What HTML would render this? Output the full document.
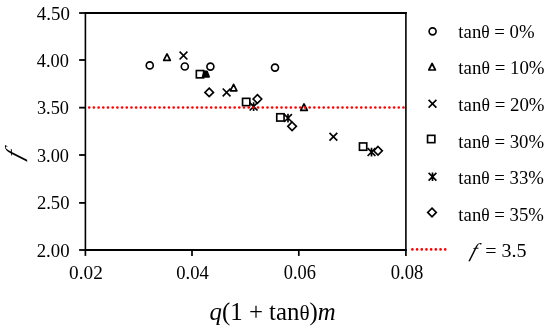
<!DOCTYPE html>
<html><head><meta charset="utf-8"><style>
html,body{margin:0;padding:0;background:#fff;overflow:hidden;}
svg{display:block;}
</style></head><body>
<svg width="550" height="332" viewBox="0 0 550 332">
<rect width="550" height="332" fill="#fff"/>
<g stroke="#000" fill="none">
<path d="M85.4,12.0V251.0" stroke-width="1.6"/>
<path d="M405.9,12.0V251.0" stroke-width="1.6"/>
<path d="M85.4,13.0H406.7" stroke-width="2.0"/>
<path d="M85.4,250.0H406.7" stroke-width="2.0"/>
<path d="M79.1,13.0H85.4" stroke-width="1.8"/>
<path d="M79.1,60.0H85.4" stroke-width="1.8"/>
<path d="M79.1,107.65H85.4" stroke-width="1.8"/>
<path d="M79.1,155.0H85.4" stroke-width="1.8"/>
<path d="M79.1,202.9H85.4" stroke-width="1.8"/>
<path d="M79.1,250.0H85.4" stroke-width="1.8"/>
<path d="M85.4,250.0V255.9" stroke-width="1.7"/>
<path d="M192.0,250.0V255.9" stroke-width="1.7"/>
<path d="M298.8,250.0V255.9" stroke-width="1.7"/>
<path d="M405.9,250.0V255.9" stroke-width="1.7"/>
</g>
<g stroke="#000" stroke-width="1.65" fill="none">
<circle cx="149.75" cy="65.4" r="3.5"/>
<circle cx="184.8" cy="66.5" r="3.5"/>
<circle cx="210.4" cy="66.6" r="3.5"/>
<circle cx="275.0" cy="67.6" r="3.5"/>
<polygon points="167.00,53.95 170.30,60.45 163.70,60.45" stroke-linejoin="round" stroke-width="1.7"/>
<polygon points="233.60,84.35 236.90,90.85 230.30,90.85" stroke-linejoin="round" stroke-width="1.7"/>
<polygon points="304.00,103.95 307.30,110.45 300.70,110.45" stroke-linejoin="round" stroke-width="1.7"/>
<path d="M179.60,51.70L187.40,59.50M187.40,51.70L179.60,59.50"/>
<path d="M222.70,88.50L230.50,96.30M230.50,88.50L222.70,96.30"/>
<path d="M329.50,132.80L337.30,140.60M337.30,132.80L329.50,140.60"/>
<rect x="196.35" y="70.55" width="7.30" height="7.30"/>
<rect x="242.55" y="98.35" width="7.30" height="7.30"/>
<rect x="276.75" y="113.75" width="7.30" height="7.30"/>
<rect x="359.45" y="142.95" width="7.30" height="7.30"/>
<path d="M249.70,102.70L257.50,110.50M257.50,102.70L249.70,110.50M253.60,102.30L253.60,110.90"/>
<path d="M284.10,114.20L291.90,122.00M291.90,114.20L284.10,122.00M288.00,113.80L288.00,122.40"/>
<path d="M367.60,148.20L375.40,156.00M375.40,148.20L367.60,156.00M371.50,147.80L371.50,156.40"/>
<polygon points="209.20,88.10 213.50,92.40 209.20,96.70 204.90,92.40"/>
<polygon points="257.40,94.70 261.70,99.00 257.40,103.30 253.10,99.00"/>
<polygon points="292.10,122.00 296.40,126.30 292.10,130.60 287.80,126.30"/>
<polygon points="378.00,146.50 382.30,150.80 378.00,155.10 373.70,150.80"/>
<polygon points="204.2,71.3 207.0,71.3 209.1,76.9 202.6,76.9" fill="#000" stroke-linejoin="round" stroke-width="1.7"/>
</g>
<path d="M89.25,107.5H405" stroke="#ff0000" stroke-width="2.7" stroke-linecap="round" stroke-dasharray="0 4.69" fill="none"/>
<g stroke="#000" stroke-width="1.65" fill="none">
<circle cx="432.6" cy="31.35" r="3.5"/>
<polygon points="432.10,63.50 435.40,70.00 428.80,70.00" stroke-linejoin="round" stroke-width="1.7"/>
<path d="M428.60,99.90L436.40,107.70M436.40,99.90L428.60,107.70"/>
<rect x="427.55" y="135.35" width="7.30" height="7.30"/>
<path d="M428.60,172.80L436.40,180.60M436.40,172.80L428.60,180.60M432.50,172.40L432.50,181.00"/>
<polygon points="432.00,208.15 436.30,212.45 432.00,216.75 427.70,212.45"/>
</g>
<path d="M412.4,249.4H446" stroke="#ff0000" stroke-width="2.7" stroke-linecap="round" stroke-dasharray="0 4.69" fill="none"/>
<text transform="matrix(0.9684 0 0 1.0189 36.86 19.75)" font-family="Liberation Serif, serif" font-size="19.5" fill="#000">4.50</text>
<text transform="matrix(0.9414 0 0 0.9962 36.86 66.55)" font-family="Liberation Serif, serif" font-size="19.5" fill="#000">4.00</text>
<text transform="matrix(0.9385 0 0 0.9962 36.96 113.95)" font-family="Liberation Serif, serif" font-size="19.5" fill="#000">3.50</text>
<text transform="matrix(0.9385 0 0 0.9962 36.96 161.55)" font-family="Liberation Serif, serif" font-size="19.5" fill="#000">3.00</text>
<text transform="matrix(0.9557 0 0 1.0038 36.88 209.45)" font-family="Liberation Serif, serif" font-size="19.5" fill="#000">2.50</text>
<text transform="matrix(0.9649 0 0 0.9887 36.68 257.15)" font-family="Liberation Serif, serif" font-size="19.5" fill="#000">2.00</text>
<text transform="matrix(0.9891 0 0 0.9811 69.06 279.25)" font-family="Liberation Serif, serif" font-size="19.5" fill="#000">0.02</text>
<text transform="matrix(0.9545 0 0 1.0189 176.28 279.35)" font-family="Liberation Serif, serif" font-size="19.5" fill="#000">0.04</text>
<text transform="matrix(0.9435 0 0 1.0340 283.79 279.44)" font-family="Liberation Serif, serif" font-size="19.5" fill="#000">0.06</text>
<text transform="matrix(0.9557 0 0 1.0340 390.68 279.44)" font-family="Liberation Serif, serif" font-size="19.5" fill="#000">0.08</text>
<text transform="matrix(0.9761 0 0 1.0000 458.36 37.75)" font-family="Liberation Serif, serif" font-size="19.2" fill="#000">tan<tspan font-size="18">θ</tspan> = 0%</text>
<text transform="matrix(0.9833 0 0 1.0000 458.35 74.42)" font-family="Liberation Serif, serif" font-size="19.2" fill="#000">tan<tspan font-size="18">θ</tspan> = 10%</text>
<text transform="matrix(0.9833 0 0 1.0000 458.35 111.09)" font-family="Liberation Serif, serif" font-size="19.2" fill="#000">tan<tspan font-size="18">θ</tspan> = 20%</text>
<text transform="matrix(0.9787 0 0 1.0000 458.36 147.76)" font-family="Liberation Serif, serif" font-size="19.2" fill="#000">tan<tspan font-size="18">θ</tspan> = 30%</text>
<text transform="matrix(0.9764 0 0 1.0000 458.36 184.43)" font-family="Liberation Serif, serif" font-size="19.2" fill="#000">tan<tspan font-size="18">θ</tspan> = 33%</text>
<text transform="matrix(0.9764 0 0 1.0000 458.36 221.10)" font-family="Liberation Serif, serif" font-size="19.2" fill="#000">tan<tspan font-size="18">θ</tspan> = 35%</text>
<text transform="matrix(1.0231 0 0 1.0222 469.52 257.16) skewX(-18)" font-family="Liberation Serif, serif" font-size="19.5" font-style="italic" fill="#000">f</text>
<text transform="matrix(1.0112 0 0 1.0312 21.79 160.31) rotate(-90) skewX(-18)" font-family="Liberation Serif, serif" font-size="24" font-style="italic" fill="#000">f</text>
<text transform="matrix(1.0286 0 0 0.9811 485.17 257.25)" font-family="Liberation Serif, serif" font-size="19.5" fill="#000">= 3.5</text>
<text transform="matrix(1.0345 0 0 1.0161 209.62 319.97)" font-family="Liberation Serif, serif" font-size="24" fill="#000"><tspan font-style="italic">q</tspan>(1 + tan<tspan font-size="20.5">θ</tspan>)<tspan font-style="italic">m</tspan></text>
</svg>
</body></html>
